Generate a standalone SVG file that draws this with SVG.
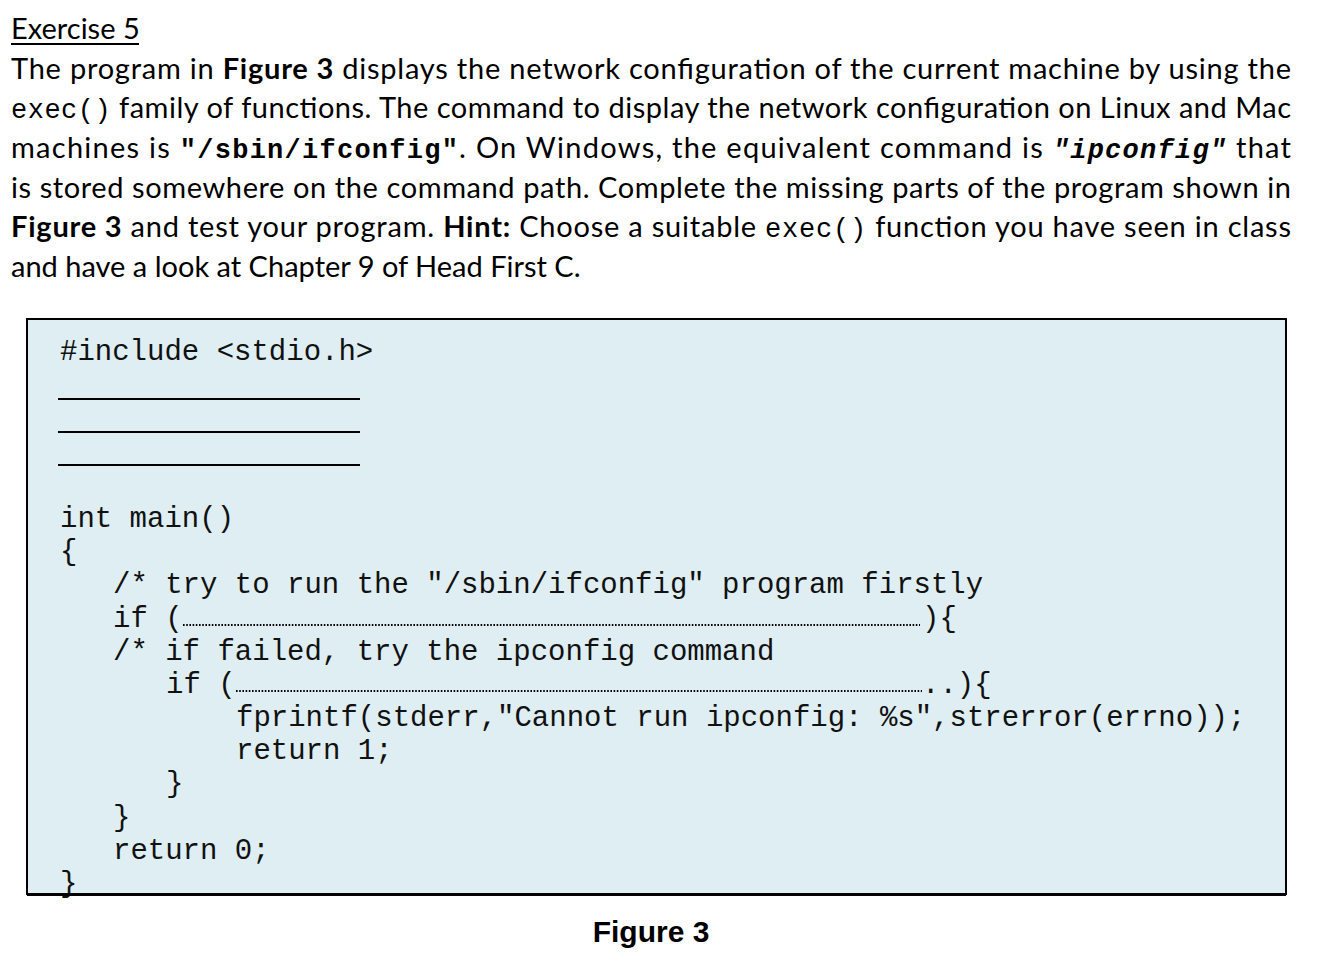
<svg xmlns="http://www.w3.org/2000/svg" width="1322" height="976" viewBox="0 0 1322 976">
<style>
.t{font-family:Lato,"Open Sans",sans-serif;font-size:29px;fill:#000}
.b{font-weight:bold}
.m{font-family:"Liberation Mono",monospace;font-size:27px}
.c{font-family:"Liberation Mono",monospace;font-size:29px;fill:#111}
.d{stroke:#000;stroke-width:2;stroke-dasharray:1.6 1.6}
.u{stroke:#000;stroke-width:2}
</style>
<rect width="1322" height="976" fill="#fff"/>
<text class="t" x="11" y="39">Exercise 5</text>
<line class="u" x1="11" y1="44" x2="139" y2="44" stroke-width="1.5"/>
<text class="t" x="11" y="79" textLength="1280" lengthAdjust="spacing">The program in <tspan class="b">Figure 3</tspan> displays the network configuration of the current machine by using the</text>
<text class="t" x="11" y="118" textLength="1280" lengthAdjust="spacing"><tspan class="m">exec()</tspan> family of functions. The command to display the network configuration on Linux and Mac</text>
<text class="t" x="11" y="158" textLength="1280" lengthAdjust="spacing">machines is <tspan class="m b">"/sbin/ifconfig"</tspan>. On Windows, the equivalent command is <tspan class="m b" font-style="italic">"ipconfig"</tspan> that</text>
<text class="t" x="11" y="198" textLength="1280" lengthAdjust="spacing">is stored somewhere on the command path. Complete the missing parts of the program shown in</text>
<text class="t" x="11" y="237" textLength="1280" lengthAdjust="spacing"><tspan class="b">Figure 3</tspan> and test your program.  <tspan class="b">Hint:</tspan> Choose a suitable <tspan class="m">exec()</tspan> function you have seen in class</text>
<text class="t" x="11" y="277">and have a look at Chapter 9 of Head First C.</text>
<rect x="27" y="319" width="1259" height="575" fill="#DEEEF3" stroke="#000" stroke-width="2"/>
<text class="c" x="60" y="360">#include &lt;stdio.h&gt;</text>
<line class="u" x1="58" y1="399" x2="360" y2="399"/>
<line class="u" x1="58" y1="432" x2="360" y2="432"/>
<line class="u" x1="58" y1="465" x2="360" y2="465"/>
<text class="c" x="60" y="527">int main()</text>
<text class="c" x="60" y="560">{</text>
<text class="c" x="113" y="593">/* try to run the "/sbin/ifconfig" program firstly</text>
<text class="c" x="113" y="627">if (</text>
<line class="d" x1="183" y1="625" x2="920" y2="625"/>
<text class="c" x="922" y="627">){</text>
<text class="c" x="113" y="660">/* if failed, try the ipconfig command</text>
<text class="c" x="166" y="693">if (</text>
<line class="d" x1="236" y1="691" x2="922" y2="691"/>
<text class="c" x="922" y="693">..){</text>
<text class="c" x="236" y="726">fprintf(stderr,"Cannot run ipconfig: %s",strerror(errno));</text>
<text class="c" x="236" y="759">return 1;</text>
<text class="c" x="166" y="792">}</text>
<text class="c" x="113" y="826">}</text>
<text class="c" x="113" y="859">return 0;</text>
<text class="c" x="60" y="892">}</text>
<rect x="27" y="893" width="1259" height="3" fill="#000"/>
<text x="651" y="942" text-anchor="middle" font-family="Liberation Sans,Arial,sans-serif" font-weight="bold" font-size="30">Figure 3</text>
</svg>
